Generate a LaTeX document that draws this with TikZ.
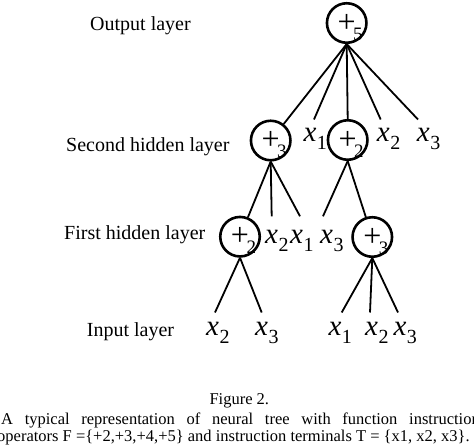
\documentclass[tikz,border=0pt]{standalone}
\usepackage{fontspec}
\setmainfont{Liberation Serif}
\tikzset{
  op/.style={circle,draw,line width=2.6pt,minimum size=39.5pt,inner sep=0pt,font=\fontsize{32}{32}\selectfont},
  leaf/.style={anchor=base west,inner sep=0pt,font=\fontsize{29}{29}\selectfont},
  layer/.style={anchor=base west,inner sep=0pt,font=\fontsize{20}{24}\selectfont},
  captext/.style={inner sep=0pt,font=\fontsize{16.5}{18}\selectfont},
  conn/.style={line width=1.8pt}
}
\newcommand\opsub[1]{\raisebox{-9pt}[0pt][0pt]{+\rlap{\kern-2.5pt\raisebox{-8pt}{\fontsize{19}{19}\selectfont #1}}}}
\newcommand\leafx[1]{\textit{x}\raisebox{-8pt}{\fontsize{20}{20}\selectfont\kern0.5pt #1}}
\begin{document}
\begin{tikzpicture}[x=1pt,y=-1pt]
\useasboundingbox (0,0) rectangle (474,445);
% layer labels
\node[layer] (lo) at (90,30.5) {Output layer};
\node[layer] (ls) at (66,151) {Second hidden layer};
\node[layer] (lf) at (64,239.3) {First hidden layer};
\node[layer] (li) at (86.7,336.7) {Input layer};
% operator nodes
\node[op] (p5) at (346.7,23) {\opsub{5}};
\node[op] (p3s) at (270.7,140.5) {\opsub{3}};
\node[op] (p2s) at (347.7,140) {\opsub{2}};
\node[op] (p2f) at (240,236.7) {\opsub{2}};
\node[op] (p3f) at (372.3,237) {\opsub{3}};
% leaves
\node[leaf] (s1) at (303.3,141) {\leafx{1}};
\node[leaf] (s2) at (376.7,141) {\leafx{2}};
\node[leaf] (s3) at (416.7,141) {\leafx{3}};
\node[leaf] (f2) at (265,243.3) {\leafx{2}};
\node[leaf] (f1) at (290,243.3) {\leafx{1}};
\node[leaf] (f3) at (320,243.3) {\leafx{3}};
\node[leaf] (i2a) at (206,335) {\leafx{2}};
\node[leaf] (i3a) at (255,335) {\leafx{3}};
\node[leaf] (i1) at (328.3,335) {\leafx{1}};
\node[leaf] (i2b) at (365,335) {\leafx{2}};
\node[leaf] (i3b) at (393.3,335) {\leafx{3}};
% connectors
\draw[conn] (p5.south) -- (p3s);
\draw[conn] (p5.south) -- ([shift={(10.7,-8)}]s1.north west);
\draw[conn] (p5.south) -- (p2s.north);
\draw[conn] (p5.south) -- ([shift={(4,-8)}]s2.north west);
\draw[conn] (p5.south) -- ([shift={(1.3,-8)}]s3.north west);
\draw[conn] (p3s.south) -- (p2f);
\draw[conn] (p3s.south) -- ([shift={(6.7,-13.5)}]f2.north west);
\draw[conn] (p3s.south) -- ([shift={(10,-13.5)}]f1.north west);
\draw[conn] (p2s.south) -- ([shift={(3,-13.5)}]f3.north west);
\draw[conn] (p2s.south) -- (p3f);
\draw[conn] (p2f.south) -- ([shift={(9,-9)}]i2a.north west);
\draw[conn] (p2f.south) -- ([shift={(6.7,-9)}]i3a.north west);
\draw[conn] (p3f.south) -- ([shift={(13.4,-9)}]i1.north west);
\draw[conn] (p3f.south) -- ([shift={(5,-9)}]i2b.north west);
\draw[conn] (p3f.south) -- ([shift={(4.7,-9)}]i3b.north west);
% caption
\node[captext,anchor=base] (fig) at (239.3,404.3) {Figure 2.};
\node[captext,anchor=base west] (c1) at (1,424.3) {\makebox[478.5pt][s]{A typical representation of neural tree with function instruction}};
\node[captext,anchor=base west] (c2) at (-3,441.7) {operators F =\{+2,+3,+4,+5\} and instruction terminals T = \{x1, x2, x3\}.};
\end{tikzpicture}
\end{document}
